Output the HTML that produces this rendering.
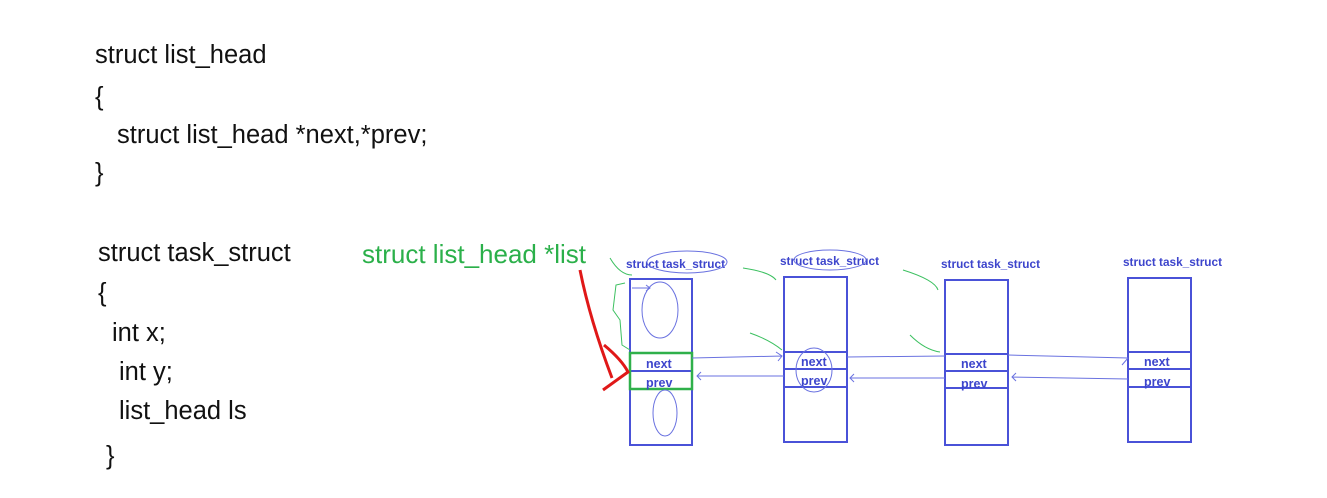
<!DOCTYPE html>
<html><head><meta charset="utf-8"><style>
html,body{margin:0;padding:0;background:#fff;}
svg{display:block}
.c{font-family:"Liberation Sans","DejaVu Sans",sans-serif;font-size:25.5px;fill:#111}
.b{fill:none;stroke:#4a52d8;stroke-width:2}
.t{font-family:"Liberation Sans",sans-serif;font-size:11.8px;font-weight:bold;fill:#3d45cc}
.n{font-family:"Liberation Sans",sans-serif;font-size:12.5px;font-weight:bold;fill:#3d45cc}
.h{fill:none;stroke:#6a72e0;stroke-width:1}
.g{fill:none;stroke:#3cc060;stroke-width:1}
</style></head><body>
<svg width="1327" height="498" viewBox="0 0 1327 498">
<text class="c" x="95" y="63">struct list_head</text>
<text class="c" x="95" y="105">{</text>
<text class="c" x="117" y="143">struct list_head *next,*prev;</text>
<text class="c" x="95" y="181">}</text>
<text class="c" x="98" y="261">struct task_struct</text>
<text class="c" x="98" y="301">{</text>
<text class="c" x="112" y="341">int x;</text>
<text class="c" x="119" y="380">int y;</text>
<text class="c" x="119" y="419">list_head ls</text>
<text class="c" x="106" y="464">}</text>
<text x="362" y="263" font-family="Liberation Sans,sans-serif" font-size="26" fill="#2bb04a">struct list_head *list</text>

<!-- box1 -->
<rect class="b" x="630" y="279" width="62" height="166"/>
<line class="b" x1="630" y1="371" x2="692" y2="371"/>
<rect x="630" y="353" width="62" height="36" fill="none" stroke="#2fb04a" stroke-width="2.5"/>
<text class="n" x="646" y="368">next</text><text class="n" x="646" y="387">prev</text>
<text class="t" x="626" y="268">struct task_struct</text>
<ellipse class="h" cx="660" cy="310" rx="18" ry="28"/>
<ellipse class="h" cx="665" cy="413" rx="12" ry="23"/>
<ellipse class="h" cx="687" cy="262" rx="40" ry="11"/>
<!-- box2 -->
<rect class="b" x="784" y="277" width="63" height="165"/>
<line class="b" x1="784" y1="352" x2="847" y2="352"/>
<line class="b" x1="784" y1="369" x2="847" y2="369"/>
<line class="b" x1="784" y1="387" x2="847" y2="387"/>
<text class="n" x="801" y="366">next</text><text class="n" x="801" y="385">prev</text>
<text class="t" x="780" y="265">struct task_struct</text>
<ellipse class="h" cx="830" cy="260" rx="36" ry="10"/>
<ellipse class="h" cx="814" cy="370" rx="18" ry="22"/>
<!-- box3 -->
<rect class="b" x="945" y="280" width="63" height="165"/>
<line class="b" x1="945" y1="354" x2="1008" y2="354"/>
<line class="b" x1="945" y1="371" x2="1008" y2="371"/>
<line class="b" x1="945" y1="388" x2="1008" y2="388"/>
<text class="n" x="961" y="368">next</text><text class="n" x="961" y="388">prev</text>
<text class="t" x="941" y="268">struct task_struct</text>
<!-- box4 -->
<rect class="b" x="1128" y="278" width="63" height="164"/>
<line class="b" x1="1128" y1="352" x2="1191" y2="352"/>
<line class="b" x1="1128" y1="369" x2="1191" y2="369"/>
<line class="b" x1="1128" y1="387" x2="1191" y2="387"/>
<text class="n" x="1144" y="366">next</text><text class="n" x="1144" y="386">prev</text>
<text class="t" x="1123" y="266">struct task_struct</text>

<!-- connectors -->
<path class="h" d="M692 358 L782 356 M776 352 L782 356 L778 361"/>
<path class="h" d="M784 376 L697 376 M701 372 L697 376 L701 380"/>
<path class="h" d="M847 357 L945 356"/>
<path class="h" d="M945 378 L850 378 M854 374 L850 378 L854 382"/>
<path class="h" d="M1008 355 L1128 358 M1122 365 L1128 358"/>
<path class="h" d="M1128 379 L1012 377 M1016 373 L1012 377 L1016 381"/>
<path class="h" d="M632 288 L650 288 M646 285 L650 288 L646 291"/>
<!-- green scribbles -->
<path class="g" d="M610 258 Q620 275 632 275 M625 283 L616 285 L613 310 L620 320 L622 345 L630 350"/>
<path class="g" d="M743 268 Q770 272 776 280 M750 333 Q770 340 782 350"/>
<path class="g" d="M903 270 Q935 280 938 290 M910 335 Q925 350 940 352"/>
<!-- red arrow -->
<path d="M580 270 Q590 320 612 378 M604 345 Q622 360 628 372 L603 390" fill="none" stroke="#e01818" stroke-width="3"/>
</svg>
</body></html>
